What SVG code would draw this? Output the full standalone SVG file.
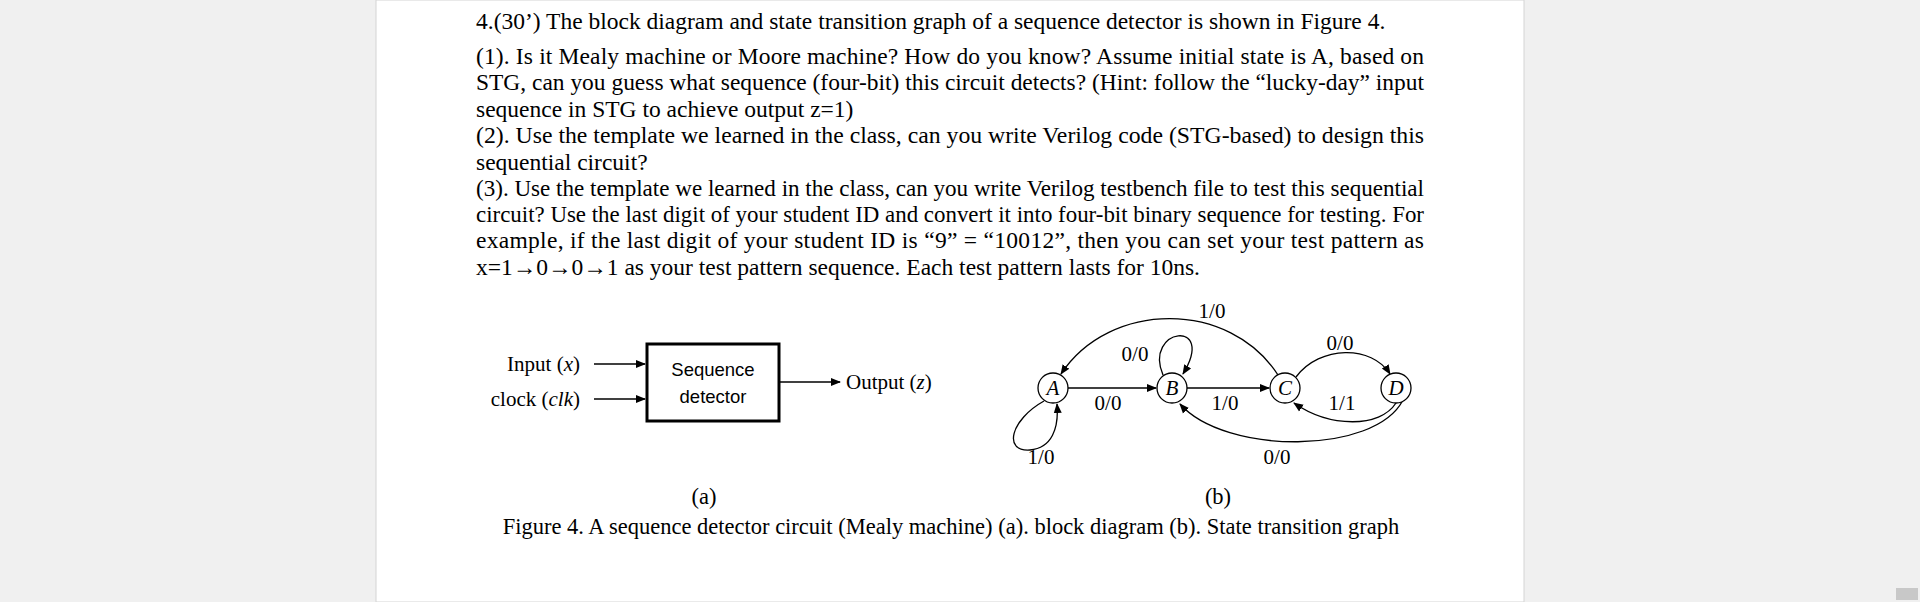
<svg xmlns="http://www.w3.org/2000/svg" width="1920" height="602" viewBox="0 0 1920 602">
<style>
.t{font-family:"Liberation Serif",serif;font-size:23.5px;fill:#000}
.c{font-family:"Liberation Serif",serif;font-size:22.5px;fill:#000}
.s{font-family:"Liberation Serif",serif;font-size:21px;fill:#000}
.sa{font-family:"Liberation Sans",sans-serif;font-size:18.5px;fill:#000}
.ln{fill:none;stroke:#000;stroke-width:1.3}
.st{fill:#fff;stroke:#000;stroke-width:1.3}
</style>
<defs>
<marker id="ar" viewBox="0 0 10 10" refX="9" refY="5" markerWidth="10" markerHeight="10" markerUnits="userSpaceOnUse" orient="auto"><path d="M0,1 L10,5 L0,9 Z" fill="#000"/></marker>
</defs>
<rect width="1920" height="602" fill="#f0f0f0"/>
<rect x="376" y="0" width="1148" height="602" fill="#fff" stroke="#d4d4d4"/>
<rect x="1896" y="588" width="22" height="12" fill="#c8c8c8"/>
<g id="question">
<text class="t" x="476" y="29">4.(30’) The block diagram and state transition graph of a sequence detector is shown in Figure 4.</text>
<text class="t" x="476" y="64" textLength="948" lengthAdjust="spacing">(1). Is it Mealy machine or Moore machine? How do you know? Assume initial state is A, based on</text>
<text class="t" x="476" y="90" textLength="948" lengthAdjust="spacingAndGlyphs">STG, can you guess what sequence (four-bit) this circuit detects? (Hint: follow the “lucky-day” input</text>
<text class="t" x="476" y="117">sequence in STG to achieve output z=1)</text>
<text class="t" x="476" y="143" textLength="948" lengthAdjust="spacingAndGlyphs">(2). Use the template we learned in the class, can you write Verilog code (STG-based) to design this</text>
<text class="t" x="476" y="170">sequential circuit?</text>
<text class="t" x="476" y="196" textLength="948" lengthAdjust="spacingAndGlyphs">(3). Use the template we learned in the class, can you write Verilog testbench file to test this sequential</text>
<text class="t" x="476" y="222" textLength="948" lengthAdjust="spacingAndGlyphs">circuit? Use the last digit of your student ID and convert it into four-bit binary sequence for testing. For</text>
<text class="t" x="476" y="248" textLength="948" lengthAdjust="spacing">example, if the last digit of your student ID is “9” = “10012”, then you can set your test pattern as</text>
<text class="t" x="476" y="275">x=1→0→0→1 as your test pattern sequence. Each test pattern lasts for 10ns.</text>
</g>
<g id="connectors">
<line class="ln" x1="594" y1="364" x2="645" y2="364" marker-end="url(#ar)"/>
<line class="ln" x1="594" y1="399" x2="645" y2="399" marker-end="url(#ar)"/>
<line class="ln" x1="780" y1="382" x2="840" y2="382" marker-end="url(#ar)"/>
<line class="ln" x1="1068" y1="388" x2="1156" y2="388" marker-end="url(#ar)"/>
<line class="ln" x1="1187" y1="388" x2="1269" y2="388" marker-end="url(#ar)"/>
<path class="ln" d="M1044,401 C1010,420 1003,452 1030,450 C1052,448 1059,428 1057,404" marker-end="url(#ar)"/>
<path class="ln" d="M1163,375 C1143,328 1217,318 1183,374" marker-end="url(#ar)"/>
<path class="ln" d="M1278,375 C1230,300 1110,300 1061,374" marker-end="url(#ar)"/>
<path class="ln" d="M1296,377 C1320,345 1372,345 1390,374" marker-end="url(#ar)"/>
<path class="ln" d="M1396,403 C1380,428 1330,428 1294,403" marker-end="url(#ar)"/>
<path class="ln" d="M1403,400 C1375,455 1225,455 1180,404" marker-end="url(#ar)"/>
</g>
<g id="input-label"><text class="s" x="580" y="371" text-anchor="end">Input (<tspan font-style="italic">x</tspan>)</text></g>
<g id="clock-label"><text class="s" x="580" y="406" text-anchor="end">clock (<tspan font-style="italic">clk</tspan>)</text></g>
<g id="detector">
<rect x="647" y="344" width="132" height="77" fill="#fff" stroke="#000" stroke-width="3"/>
<text class="sa" x="713" y="376" text-anchor="middle">Sequence</text>
<text class="sa" x="713" y="403" text-anchor="middle">detector</text>
</g>
<g id="output-label"><text class="s" x="846" y="389">Output (<tspan font-style="italic">z</tspan>)</text></g>
<g id="A"><circle class="st" cx="1053" cy="388" r="15"/><text class="s" x="1053" y="395" text-anchor="middle" font-style="italic">A</text></g>
<g id="B"><circle class="st" cx="1172" cy="388" r="15"/><text class="s" x="1172" y="395" text-anchor="middle" font-style="italic">B</text></g>
<g id="C"><circle class="st" cx="1285" cy="388" r="15"/><text class="s" x="1285" y="395" text-anchor="middle" font-style="italic">C</text></g>
<g id="D"><circle class="st" cx="1396" cy="388" r="15"/><text class="s" x="1396" y="395" text-anchor="middle" font-style="italic">D</text></g>
<g id="labels">
<text class="s" x="1108" y="410" text-anchor="middle">0/0</text>
<text class="s" x="1225" y="410" text-anchor="middle">1/0</text>
<text class="s" x="1342" y="410" text-anchor="middle">1/1</text>
<text class="s" x="1041" y="464" text-anchor="middle">1/0</text>
<text class="s" x="1135" y="361" text-anchor="middle">0/0</text>
<text class="s" x="1212" y="318" text-anchor="middle">1/0</text>
<text class="s" x="1340" y="350" text-anchor="middle">0/0</text>
<text class="s" x="1277" y="464" text-anchor="middle">0/0</text>
</g>
<g id="caption">
<text class="c" x="704" y="504" text-anchor="middle">(a)</text>
<text class="c" x="1218" y="504" text-anchor="middle">(b)</text>
<text class="c" x="951" y="534" text-anchor="middle">Figure 4. A sequence detector circuit (Mealy machine) (a). block diagram (b). State transition graph</text>
</g>
</svg>
